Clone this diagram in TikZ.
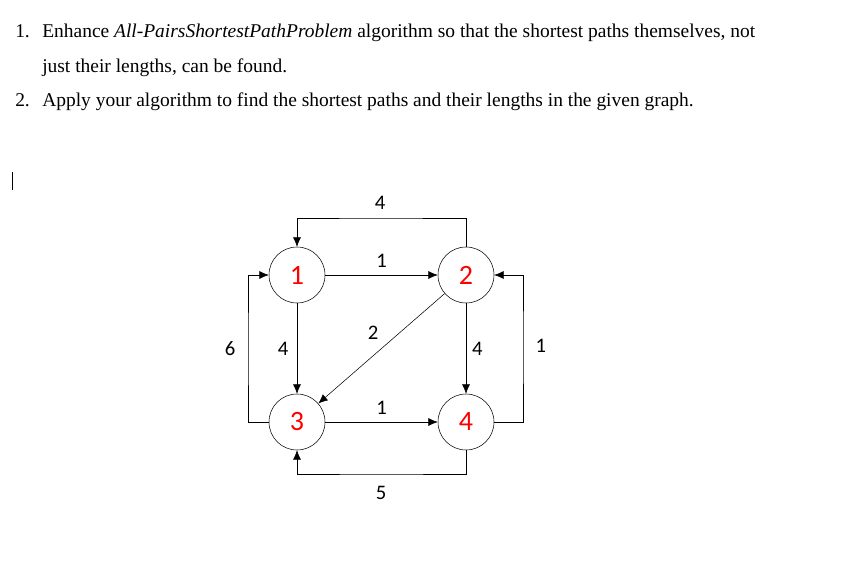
\documentclass[tikz,border=0pt]{standalone}
\usepackage{fontspec}
\usetikzlibrary{arrows.meta}
\setmainfont{Liberation Serif}
\newfontfamily\lbl{Carlito}
\begin{document}
\begin{tikzpicture}[x=0.75pt,y=-0.75pt,
  vtx/.style={circle,draw,thin,minimum size=42pt,inner sep=0pt,text=red,font=\lbl\fontsize{21}{21}\selectfont},
  edge/.style={draw,thin,-{Latex[length=7pt,width=6pt]}},
  wt/.style={font=\lbl\fontsize{15.5}{15.5}\selectfont},
  txt/.style={anchor=base west,inner sep=0pt,font=\fontsize{14.6}{16}\selectfont}]
\useasboundingbox (0,0) rectangle (848,577);
\node[txt] (n1) at (15,38) {1.};
\node[txt] (t1) at (42,38) {Enhance \textit{All-PairsShortestPathProblem} algorithm so that the shortest paths themselves, not};
\node[txt] (t2) at (42,73) {just their lengths, can be found.};
\node[txt] (n2) at (15,107) {2.};
\node[txt] (t3) at (42,107) {Apply your algorithm to find the shortest paths and their lengths in the given graph.};
\coordinate (c1) at (12,172); \coordinate (c2) at (12,190);
\draw[thin] (c1) -- (c2);
\node[vtx] (v1) at (297,275) {1};
\node[vtx] (v2) at (466,275) {2};
\node[vtx] (v3) at (297,422) {3};
\node[vtx] (v4) at (466,422) {4};
\draw[edge] (v1) -- node[wt,above=2pt]{1} (v2);
\draw[edge] (v1) -- node[wt,left=3pt]{4} (v3);
\draw[edge] (v3) -- node[wt,above=2pt]{1} (v4);
\draw[edge] (v2) -- node[wt,right=1pt]{4} (v4);
\draw[edge] (v2) -- (v3);
\node[wt] (w23) at (373,333) {2};
\draw[edge] (v2.north) |- (380,218) node[wt,above=3pt]{4} -| (v1.north);
\draw[edge] (v3.west) -| (248,349) node[wt,left=6pt]{6} |- (v1.west);
\draw[edge] (v4.east) -| (523,346) node[wt,right=6pt]{1} |- (v2.east);
\draw[edge] (v4.south) |- (381,474) node[wt,below=6pt]{5} -| (v3.south);
\end{tikzpicture}
\end{document}
